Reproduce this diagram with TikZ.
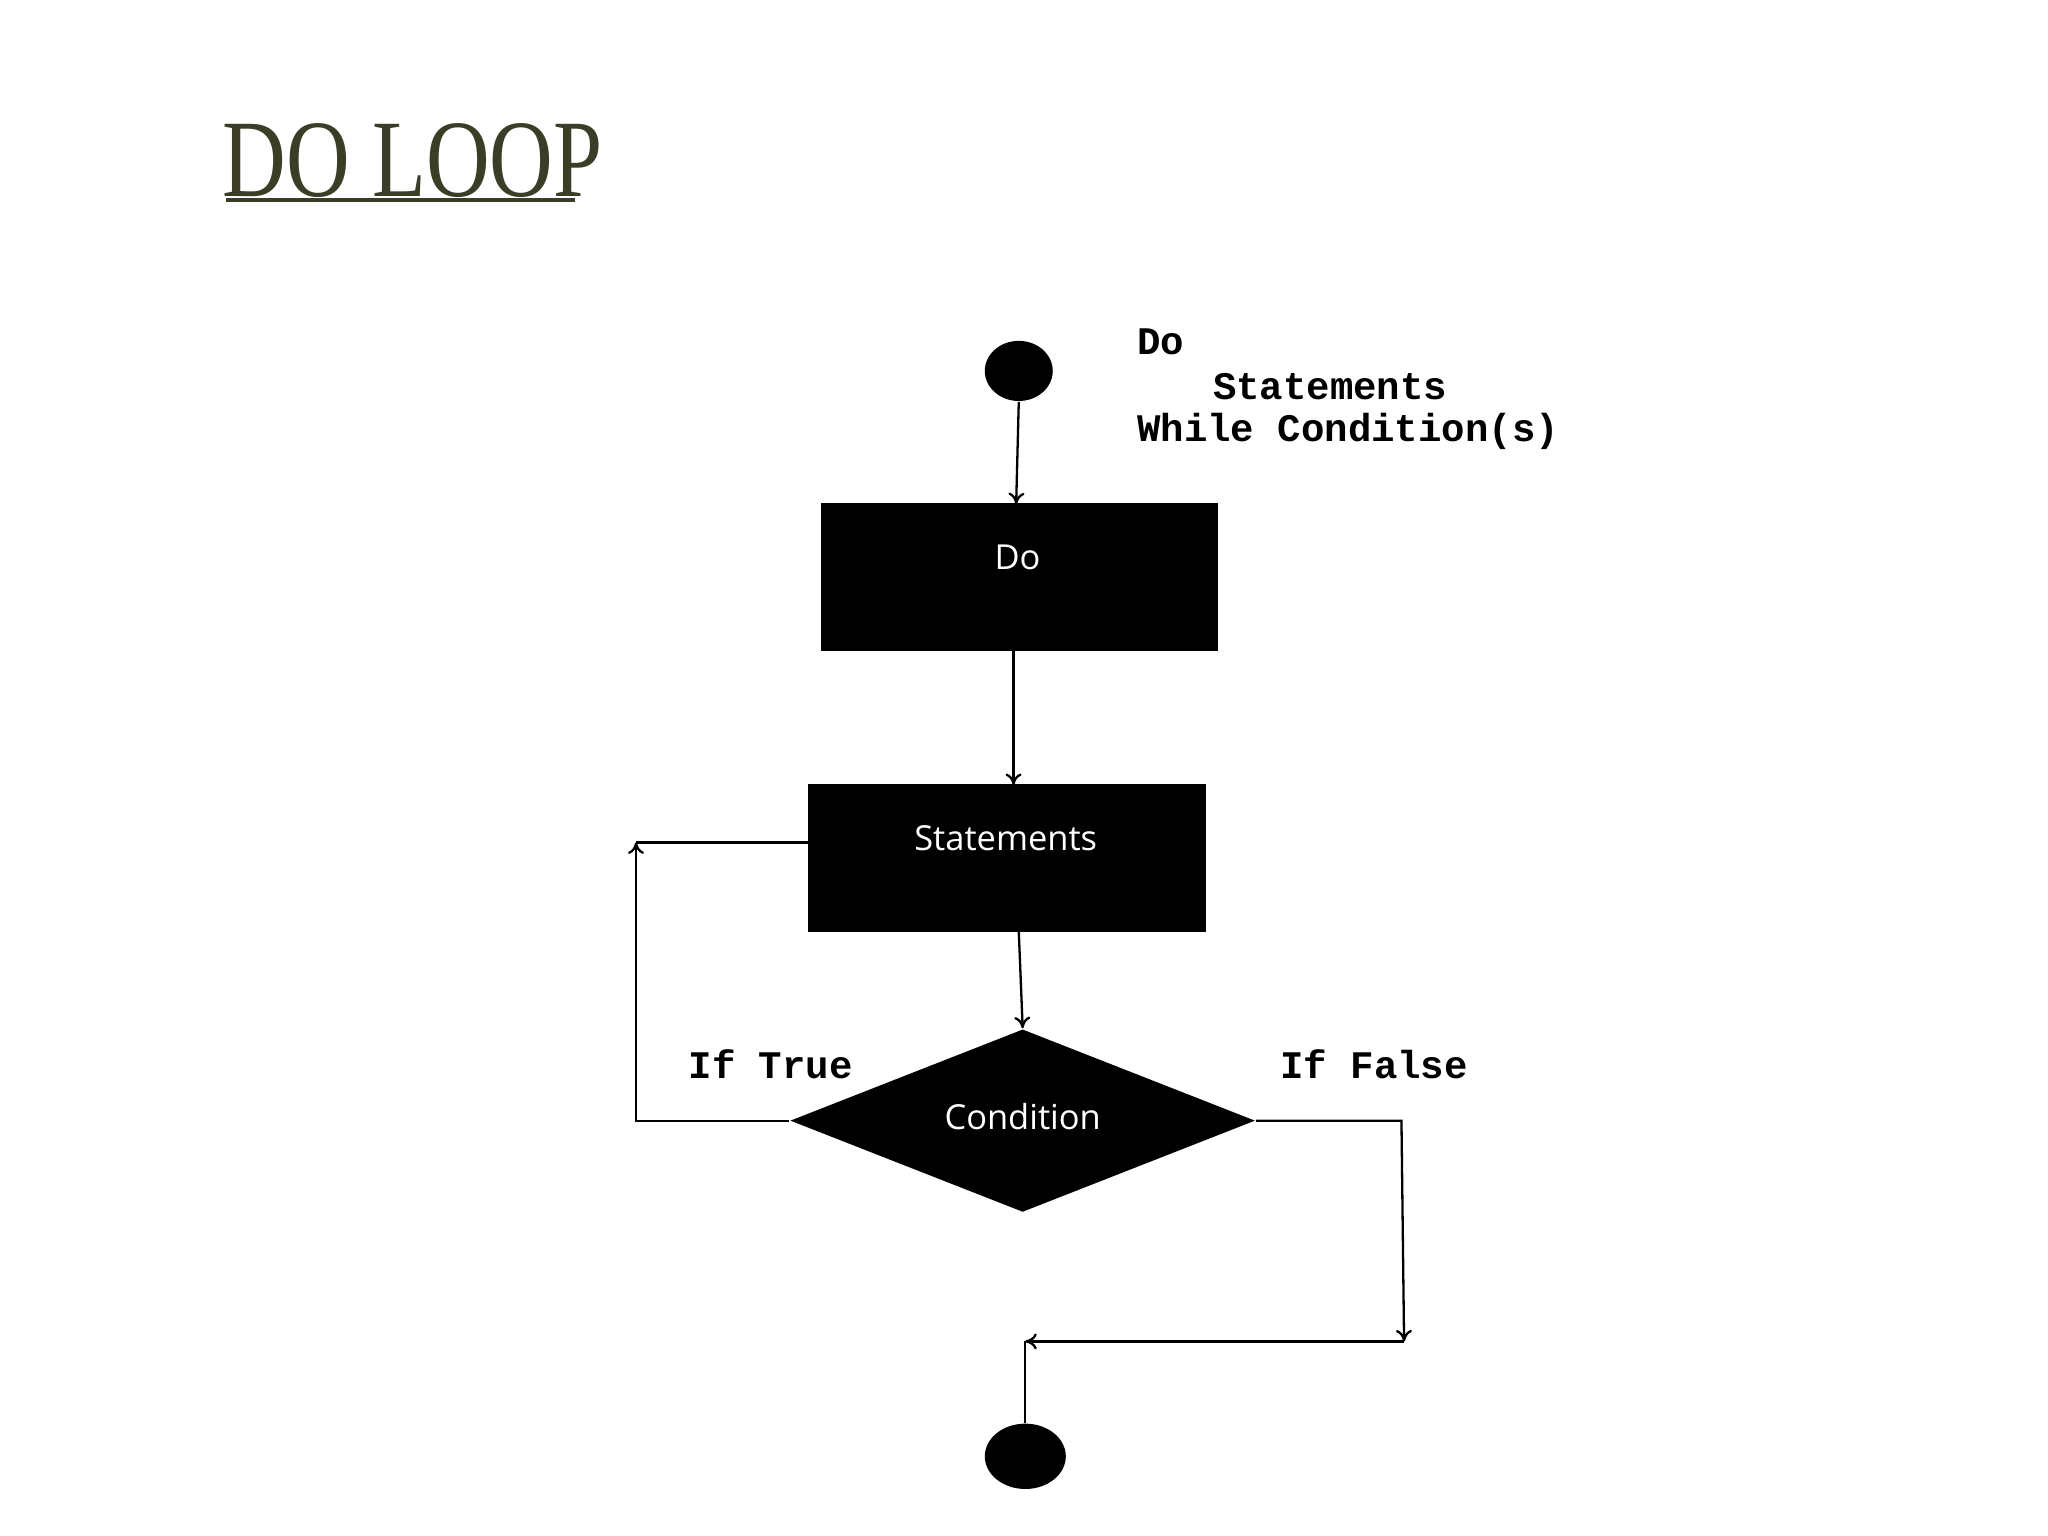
\documentclass[tikz,border=0pt]{standalone}
\usepackage{fontspec}
\setmainfont{Liberation Serif}
\newfontfamily\codefont{Liberation Mono}
\newfontfamily\boxfont{Open Sans}
\usetikzlibrary{shapes.geometric,arrows.meta}
\definecolor{titlecol}{HTML}{3B3D26}
\begin{document}
\begin{tikzpicture}[x=0.01cm,y=-0.01cm,
  blk/.style={draw=black,fill=black,text=white,font=\boxfont\fontsize{7.5pt}{9pt}\selectfont,minimum width=3.03cm,minimum height=1.12cm,inner sep=0pt},
  code/.style={font=\codefont\bfseries\fontsize{8.5pt}{9.6pt}\selectfont,anchor=west,inner sep=0pt},
  arr/.style={-{To[length=2.5pt,width=3.5pt]},line width=0.5pt},
  ln/.style={line width=0.5pt}]
\useasboundingbox (0,0) rectangle (1568,1176);
\node[anchor=west,inner sep=0pt,text=titlecol,font=\fontsize{24pt}{28pt}\selectfont,xscale=0.8] (title) at (170,123) {DO LOOP};
\draw[titlecol,line width=1pt] (173,153) -- (440,153);
\node[ellipse,fill=black,minimum width=0.52cm,minimum height=0.46cm,inner sep=0pt] (start) at (780,284) {};
\node[code] (c1) at (870,262) {Do};
\node[code] (c2) at (928,296) {Statements};
\node[code] (c3) at (870,330) {While Condition(s)};
\node[blk,text depth=0pt] (do) at (780.5,442) {};
\node[text=white,font=\boxfont\fontsize{7.5pt}{9pt}\selectfont] (dot) at (779,427) {Do};
\node[blk] (st) at (771,657) {};
\node[text=white,font=\boxfont\fontsize{7.5pt}{9pt}\selectfont] (stt) at (770,642) {Statements};
\node[diamond,fill=black,aspect=2.54,minimum width=3.56cm,minimum height=1.40cm,inner sep=0pt] (cond) at (783,858) {};
\node[text=white,font=\boxfont\fontsize{7.5pt}{9pt}\selectfont] (condt) at (783,855) {Condition};
\node[ellipse,fill=black,minimum width=0.62cm,minimum height=0.50cm,inner sep=0pt] (stop) at (785,1115) {};
\coordinate (t1) at (487,858);
\coordinate (t2) at (487,645);
\coordinate (f1) at (1073,858);
\coordinate (f2) at (1075,1027);
\coordinate (f3) at (785,1027);
\draw[arr] (start.south) -- (778,386);
\draw[arr] (776,498) -- (776,601);
\draw[arr] (780,713) -- (cond.north);
\draw[arr] (cond.west) -- (t1) -- (t2);
\draw[ln] (t2) -- (620,645);
\draw[arr] (cond.east) -- (f1) -- (f2);
\draw[arr] (f2) -- (f3);
\draw[ln] (f3) -- (stop.north);
\node[code,anchor=center] (lt) at (590,815) {If True};
\node[code,anchor=center] (lf) at (1052,815) {If False};
\end{tikzpicture}
\end{document}
